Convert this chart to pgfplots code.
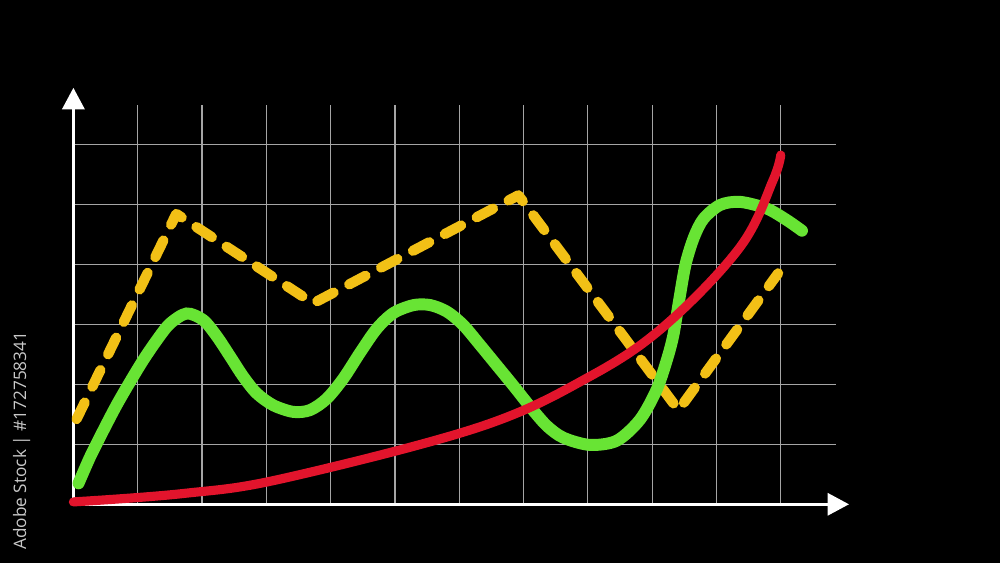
\documentclass[border=0pt]{standalone}
\usepackage{pgfplots}
\pgfplotsset{compat=1.18}
\usepackage{fontspec}
\setmainfont{Open Sans}
\definecolor{cyel}{RGB}{242,192,22}
\definecolor{cgrn}{RGB}{104,228,52}
\definecolor{cred}{RGB}{226,20,44}
\definecolor{cgrid}{RGB}{165,165,165}
\definecolor{cwm}{RGB}{200,200,200}
\begin{document}
\begin{tikzpicture}
\path[use as bounding box, fill=black] (0,0) rectangle (20cm,11.26cm);
\node[rotate=90, anchor=west, inner sep=0pt, text=cwm, font=\fontsize{9.8}{12}\selectfont] at (0.434cm,0.26cm) {Adobe Stock | \#172758341};
\begin{axis}[
  at={(1.468cm,1.174cm)}, anchor=south west,
  scale only axis, width=15.51cm, height=8.328cm,
  xmin=0, xmax=12.06, ymin=0, ymax=6.94,
  axis lines=none, ticks=none, clip=false,
]
% grid
\draw[cgrid, line width=0.7pt] (axis cs:1,0) -- (axis cs:1,6.65);
\draw[cgrid, line width=0.7pt] (axis cs:2,0) -- (axis cs:2,6.65);
\draw[cgrid, line width=0.7pt] (axis cs:3,0) -- (axis cs:3,6.65);
\draw[cgrid, line width=0.7pt] (axis cs:4,0) -- (axis cs:4,6.65);
\draw[cgrid, line width=0.7pt] (axis cs:5,0) -- (axis cs:5,6.65);
\draw[cgrid, line width=0.7pt] (axis cs:6,0) -- (axis cs:6,6.65);
\draw[cgrid, line width=0.7pt] (axis cs:7,0) -- (axis cs:7,6.65);
\draw[cgrid, line width=0.7pt] (axis cs:8,0) -- (axis cs:8,6.65);
\draw[cgrid, line width=0.7pt] (axis cs:9,0) -- (axis cs:9,6.65);
\draw[cgrid, line width=0.7pt] (axis cs:10,0) -- (axis cs:10,6.65);
\draw[cgrid, line width=0.7pt] (axis cs:11,0) -- (axis cs:11,6.65);
\draw[cgrid, line width=0.7pt] (axis cs:0,1) -- (axis cs:11.86,1);
\draw[cgrid, line width=0.7pt] (axis cs:0,2) -- (axis cs:11.86,2);
\draw[cgrid, line width=0.7pt] (axis cs:0,3) -- (axis cs:11.86,3);
\draw[cgrid, line width=0.7pt] (axis cs:0,4) -- (axis cs:11.86,4);
\draw[cgrid, line width=0.7pt] (axis cs:0,5) -- (axis cs:11.86,5);
\draw[cgrid, line width=0.7pt] (axis cs:0,6) -- (axis cs:11.86,6);
% axes
\draw[white, line width=1.8pt] (axis cs:0,0) -- (axis cs:0,6.62);
\fill[white] (axis cs:-0.18,6.58) -- (axis cs:0.18,6.58) -- (axis cs:0,6.94) -- cycle;
\draw[white, line width=1.8pt] (axis cs:0,0) -- (axis cs:11.76,0);
\fill[white] (axis cs:11.73,0.19) -- (axis cs:11.73,-0.19) -- (axis cs:12.06,0) -- cycle;
% yellow dashed
\addplot[cyel, line width=5.8pt, line cap=round, line join=round, dash pattern=on 10.5pt off 10pt] coordinates {
(0.05,1.42) (1.60,4.84) (3.73,3.35) (6.92,5.15) (9.41,1.57) (10.96,3.85)
};
% green
\addplot[cgrn, line width=6.8pt, line cap=round, smooth, tension=0.5] coordinates {
(0.08,0.35) (0.26,0.79) (0.47,1.24) (0.67,1.65) (0.88,2.04) (1.09,2.41) (1.30,2.74) (1.50,3.01) (1.76,3.18) (2.02,3.07) (2.23,2.80) (2.44,2.46) (2.64,2.13) (2.85,1.85) (3.11,1.65) (3.42,1.54) (3.68,1.57) (3.94,1.76) (4.20,2.10) (4.46,2.53) (4.72,2.93) (4.98,3.19) (5.29,3.32) (5.55,3.32) (5.81,3.21) (6.06,2.99) (6.32,2.66) (6.58,2.32) (6.84,1.98) (7.10,1.63) (7.36,1.31) (7.62,1.11) (8.03,0.99) (8.45,1.06) (8.81,1.41) (9.07,1.91) (9.23,2.41) (9.33,2.82) (9.42,3.40) (9.52,4.00) (9.65,4.45) (9.80,4.76) (10.06,4.99) (10.37,5.04) (10.78,4.93) (11.09,4.74) (11.33,4.56)
};
% red
\addplot[cred, line width=5.2pt, line cap=round, smooth, tension=0.6] coordinates {
(0.0,0.04) (1.71,0.18) (3.26,0.43) (6.32,1.29) (8.03,2.13) (9.2,2.98) (10.37,4.29) (10.88,5.40) (11.0,5.82)
};
\end{axis}
\end{tikzpicture}
\end{document}
